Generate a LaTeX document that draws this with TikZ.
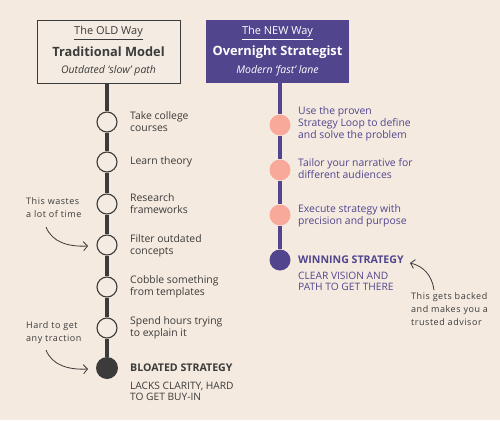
\documentclass[tikz,border=0pt]{standalone}
\usepackage{fontspec}
\setmainfont{Open Sans}
\newfontfamily\handfont[LetterSpace=6]{Open Sans}
\usetikzlibrary{arrows.meta}
\definecolor{bg}{HTML}{F4EADF}
\definecolor{boxfill}{HTML}{F4ECE2}
\definecolor{ink}{HTML}{3B3B3B}
\definecolor{purp}{HTML}{51468E}
\definecolor{peach}{HTML}{F9A99A}
\tikzset{
  oldline/.style={draw=ink, line width=3.8pt},
  newline/.style={draw=purp, line width=3.8pt},
  oldstep/.style={circle, draw=ink, line width=1.1pt, fill=boxfill, minimum size=20pt, inner sep=0pt},
  oldend/.style={circle, fill=ink, minimum size=22pt, inner sep=0pt},
  newstep/.style={circle, fill=peach, minimum size=21pt, inner sep=0pt},
  newend/.style={circle, fill=purp, minimum size=21pt, inner sep=0pt},
  oldtxt/.style={anchor=west, align=left, inner sep=0pt, text=ink, font=\fontsize{10.4}{12}\selectfont},
  newtxt/.style={anchor=west, align=left, inner sep=0pt, text=purp, font=\fontsize{10.4}{12}\selectfont},
  hand/.style={anchor=north west, align=left, inner sep=0pt, text=ink, font=\handfont\fontsize{9}{13}\selectfont},
  handarrow/.style={draw=ink, line width=0.8pt, -{Straight Barb[length=4pt,width=9pt]}},
}
\begin{document}
\begin{tikzpicture}[x=1pt,y=-1pt]
\fill[bg] (0,0) rectangle (500,420);
\useasboundingbox (0,0) rectangle (500,420);

% Old box
\node[draw=ink, line width=1.2pt, fill=boxfill, minimum width=143pt, minimum height=63pt, anchor=north west, inner sep=0pt] (oldbox) at (37,20) {};
\node[text=ink, inner sep=0pt, font=\fontsize{11}{13}\selectfont] (oldt1) at (108.5,33) {\underline{The OLD Way}};
\node[text=ink, inner sep=0pt, font=\bfseries\fontsize{12.8}{15}\selectfont] (oldt2) at (108.5,52) {Traditional Model};
\node[text=ink, inner sep=0pt, font=\itshape\fontsize{10.5}{13}\selectfont] (oldt3) at (108.5,71) {Outdated ‘slow’ path};

% New box
\node[fill=purp, minimum width=143pt, minimum height=63pt, anchor=north west, inner sep=0pt] (newbox) at (206,20) {};
\node[text=white, inner sep=0pt, font=\fontsize{11}{13}\selectfont] (newt1) at (277.5,33) {\underline{The NEW Way}};
\node[text=white, inner sep=0pt, font=\bfseries\fontsize{12.8}{15}\selectfont] (newt2) at (277.5,52) {Overnight Strategist};
\node[text=white, inner sep=0pt, font=\itshape\fontsize{10.5}{13}\selectfont] (newt3) at (277.5,71) {Modern ‘fast’ lane};

% Old steps
\node[oldstep] (o1) at (107,122) {};
\node[oldstep] (o2) at (107,162) {};
\node[oldstep] (o3) at (107,204) {};
\node[oldstep] (o4) at (107,245) {};
\node[oldstep] (o5) at (107,287) {};
\node[oldstep] (o6) at (107,328) {};
\node[oldend] (o7) at (107,368) {};
\draw[oldline] (oldbox.south -| o1) -- (o1);
\draw[oldline] (o1) -- (o2);
\draw[oldline] (o2) -- (o3);
\draw[oldline] (o3) -- (o4);
\draw[oldline] (o4) -- (o5);
\draw[oldline] (o5) -- (o6);
\draw[oldline] (o6) -- (o7);

\node[oldtxt] (ot1) at (130,122) {Take college\\courses};
\node[oldtxt] (ot2) at (130,162) {Learn theory};
\node[oldtxt] (ot3) at (130,204) {Research\\frameworks};
\node[oldtxt] (ot4) at (130,245.5) {Filter outdated\\concepts};
\node[oldtxt] (ot5) at (130,287) {Cobble something\\from templates};
\node[oldtxt] (ot6) at (130,328) {Spend hours trying\\to explain it};
\node[oldtxt, font=\bfseries\fontsize{10.6}{12}\selectfont] (ot7) at (130,368) {BLOATED STRATEGY};
\node[oldtxt, font=\fontsize{10.2}{11.5}\selectfont] (ot8) at (130,391.5) {LACKS CLARITY, HARD\\TO GET BUY-IN};

% New steps
\node[newstep] (n1) at (280,125) {};
\node[newstep] (n2) at (280,170) {};
\node[newstep] (n3) at (280,215) {};
\node[newend] (n4) at (280,260) {};
\draw[newline] (newbox.south -| n1) -- (n1);
\draw[newline] (n1) -- (n2);
\draw[newline] (n2) -- (n3);
\draw[newline] (n3) -- (n4);

\node[newtxt] (nt1) at (298,124) {Use the proven\\Strategy Loop to define\\and solve the problem};
\node[newtxt] (nt2) at (298,169) {Tailor your narrative for\\different audiences};
\node[newtxt] (nt3) at (298,216) {Execute strategy with\\precision and purpose};
\node[newtxt, font=\bfseries\fontsize{10.6}{12}\selectfont] (nt4) at (298,260) {WINNING STRATEGY};
\node[newtxt, font=\fontsize{10.2}{11.5}\selectfont] (nt5) at (298,281.5) {CLEAR VISION AND\\PATH TO GET THERE};

% Annotations
\node[hand] (a1) at (26,197) {This wastes\\a lot of time};
\node[hand] (a2) at (26,321) {Hard to get\\any traction};
\node[hand] (a3) at (411,292) {This gets backed\\and makes you a\\trusted advisor};
\coordinate (a1s) at (46,227);
\coordinate (a1e) at (88,246);
\coordinate (a2s) at (46,350);
\coordinate (a2e) at (88,369);
\coordinate (a3s) at (434,290);
\coordinate (a3e) at (410,263);
\draw[handarrow] (a1s) .. controls (52,242) and (68,247) .. (a1e);
\draw[handarrow] (a2s) .. controls (52,365) and (68,370) .. (a2e);
\draw[handarrow] (a3s) .. controls (432,275) and (423,266) .. (a3e);
\end{tikzpicture}
\end{document}
